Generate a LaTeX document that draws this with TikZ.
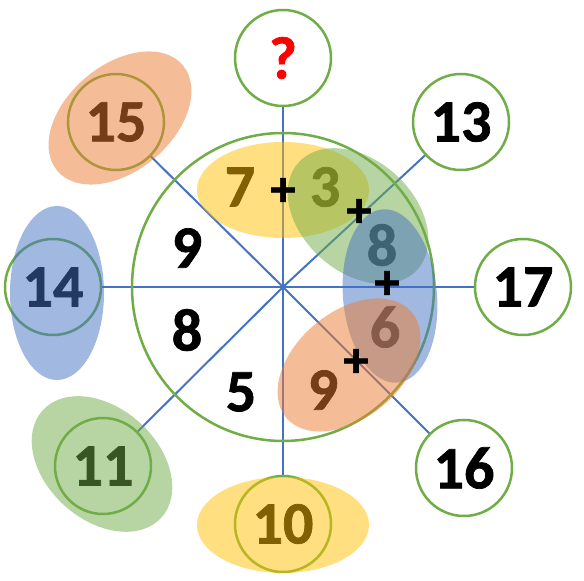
\documentclass[tikz,border=0pt]{standalone}
\usepackage{fontspec}
\setmainfont{Carlito}[BoldFeatures={FakeBold=1.2}]
\usetikzlibrary{backgrounds,shapes.geometric}
\definecolor{lnblue}{HTML}{4472C4}
\definecolor{cgreen}{HTML}{70AD47}
\definecolor{corange}{HTML}{ED7D31}
\definecolor{cyellow}{HTML}{FFC000}
\definecolor{cblue}{HTML}{4472C4}
\newcommand\numfont{\fontsize{60}{60}\selectfont\bfseries}
\newcommand\plusfont{\fontsize{50}{50}\selectfont\bfseries}
\tikzset{
  outer/.style={circle, draw=cgreen, line width=2.5pt, fill=white, minimum size=96pt, inner sep=0pt, font=\numfont},
  num/.style={font=\numfont, inner sep=0pt},
  plus/.style={font=\plusfont, inner sep=0pt},
  spoke/.style={draw=lnblue, line width=2pt},
  blob/.style={fill opacity=0.5, draw=none},
}
\begin{document}
\begin{tikzpicture}[x=1pt,y=1pt]
\useasboundingbox (0,0) rectangle (584,581);
\coordinate (c) at (283,294);
% big circle
\node[draw=cgreen, line width=2.5pt, ellipse, minimum width=302pt, minimum height=308pt, inner sep=0pt] (big) at (283,294) {};
% outer circles
\node[outer] (q) at (283,523) {\color{red}?};
\node[outer] (n13) at (461,459) {13};
\node[outer] (n17) at (523,294) {17};
\node[outer] (n16) at (464,113) {16};
\node[outer] (n10) at (283,57) {10};
\node[outer] (n11) at (103,115) {11};
\node[outer] (n14) at (53,294) {14};
\node[outer] (n15) at (116,459) {15};
\begin{scope}[on background layer]
  \fill[white] (0,0) rectangle (584,581);
  \foreach \n in {q,n13,n17,n16,n10,n11,n14,n15} \draw[spoke] (c) -- (\n);
\end{scope}
% inner numbers
\node[num] (i7) at (240,394) {7};
\node[num] (i3) at (325,394) {3};
\node[num] (i8) at (382,336) {8};
\node[num] (i6) at (385,254) {6};
\node[num] (i9) at (323,191) {9};
\node[num] (l9) at (187,333) {9};
\node[num] (l8) at (187,251) {8};
\node[num] (l5) at (241,189) {5};
% transparent blobs
\fill[blob, corange] (120,463) [rotate around={40:(120,463)}] ellipse [x radius=82, y radius=53];
\fill[blob, cblue] (57,288) ellipse [x radius=47, y radius=87];
\fill[blob, cgreen] (102,117) [rotate around={-42:(102,117)}] ellipse [x radius=80, y radius=56];
\fill[blob, cyellow] (283,56) ellipse [x radius=86, y radius=48];
\fill[blob, cyellow] (283,391) ellipse [x radius=86, y radius=48];
\fill[blob, cgreen] (358,365) [rotate around={-42:(358,365)}] ellipse [x radius=80, y radius=56];
\fill[blob, cblue] (390,285) [rotate around={5:(390,285)}] ellipse [x radius=47, y radius=87];
\fill[blob, corange] (349,216) [rotate around={40:(349,216)}] ellipse [x radius=82, y radius=53];
% plus signs
\node[plus] (p1) at (283,389) {+};
\node[plus] (p2) at (359,368) {+};
\node[plus] (p3) at (387,296) {+};
\node[plus] (p4) at (356,218) {+};
\end{tikzpicture}
\end{document}
